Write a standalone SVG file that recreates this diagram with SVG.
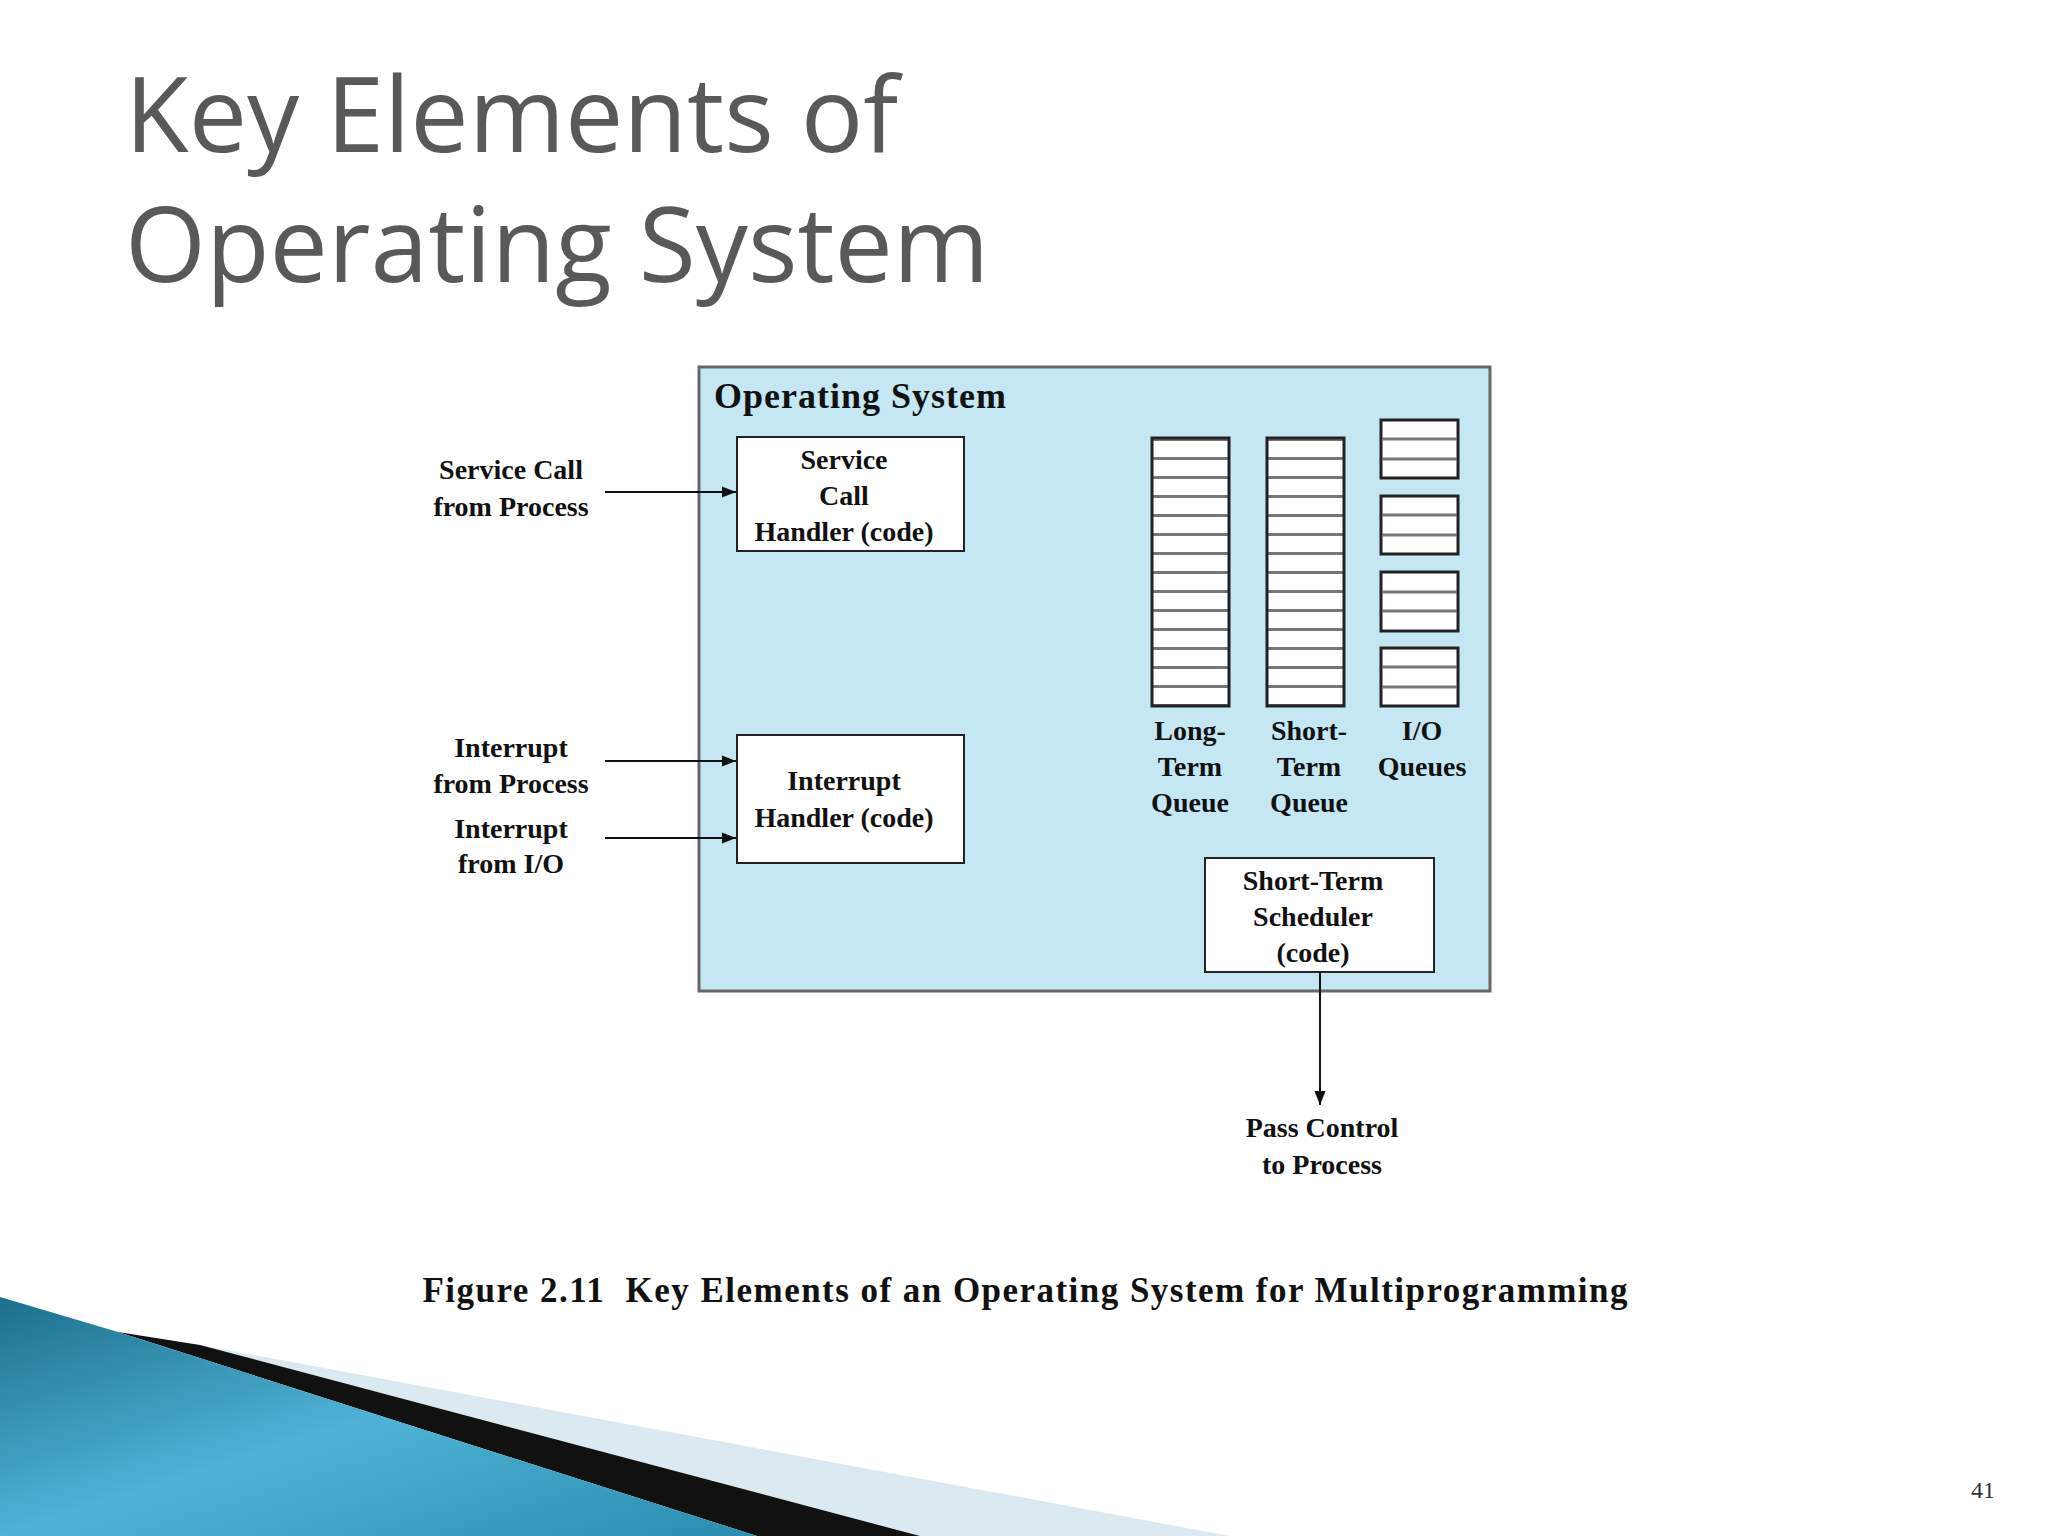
<svg xmlns="http://www.w3.org/2000/svg" width="2048" height="1536" viewBox="0 0 2048 1536">
<defs>
<style>
.t{font-family:"Liberation Serif",serif;font-weight:bold;font-size:28px;fill:#111;text-anchor:middle}
.box{fill:#fff;stroke:#222;stroke-width:2}
.edge{stroke:#111;stroke-width:2;fill:none;marker-end:url(#ah2)}
</style>
<marker id="ah2" viewBox="0 0 10 10" refX="10" refY="5" markerWidth="14" markerHeight="14" orient="auto" markerUnits="userSpaceOnUse"><path d="M0,1L10,5L0,9z" fill="#111"/></marker>
<pattern id="q" width="77" height="19" patternUnits="userSpaceOnUse" y="438"><rect width="77" height="19" fill="#fff"/><rect y="0" width="77" height="3" fill="#777"/></pattern>
<linearGradient id="g1" x1="0" y1="0" x2="1" y2="1"><stop offset="0" stop-color="#1c6f8c"/><stop offset="0.5" stop-color="#4fb3d6"/><stop offset="1" stop-color="#2a8db0"/></linearGradient>
</defs>
<rect width="2048" height="1536" fill="#fff"/>
<g id="decor">
<polygon points="200,1345 1230,1536 920,1536" fill="#dbe9f0"/>
<polygon points="118,1332 200,1345 920,1536 757,1536" fill="#111"/>
<polygon points="0,1297 118,1332 757,1536 0,1536" fill="url(#g1)"/>
</g>
<g id="title" font-family="'Open Sans',sans-serif" font-size="104" fill="#595959">
<text x="125" y="152">Key Elements of</text>
<text x="125" y="282">Operating System</text>
</g>
<g id="os">
<rect x="699" y="367" width="791" height="624" fill="#c5e7f3" stroke="#666" stroke-width="3"/>
<text x="714" y="408" class="t" style="text-anchor:start;font-size:36px" textLength="292">Operating System</text>
</g>
<g id="queues">
<g stroke="#222" stroke-width="3">
<rect x="1152" y="438" width="77" height="268" fill="url(#q)"/>
<rect x="1267" y="438" width="77" height="268" fill="url(#q)"/>
</g>
<g fill="#fff" stroke="#222" stroke-width="3">
<rect x="1381" y="420" width="77" height="58"/>
<rect x="1381" y="496" width="77" height="58"/>
<rect x="1381" y="572" width="77" height="59"/>
<rect x="1381" y="648" width="77" height="58"/>
</g>
<g stroke="#777" stroke-width="3">
<line x1="1382" y1="439" x2="1457" y2="439"/><line x1="1382" y1="459" x2="1457" y2="459"/>
<line x1="1382" y1="515" x2="1457" y2="515"/><line x1="1382" y1="535" x2="1457" y2="535"/>
<line x1="1382" y1="592" x2="1457" y2="592"/><line x1="1382" y1="611" x2="1457" y2="611"/>
<line x1="1382" y1="667" x2="1457" y2="667"/><line x1="1382" y1="687" x2="1457" y2="687"/>
</g>
<text class="t" x="1190" y="740">Long-</text><text class="t" x="1190" y="776">Term</text><text class="t" x="1190" y="812">Queue</text>
<text class="t" x="1309" y="740">Short-</text><text class="t" x="1309" y="776">Term</text><text class="t" x="1309" y="812">Queue</text>
<text class="t" x="1422" y="740">I/O</text><text class="t" x="1422" y="776">Queues</text>
</g>
<g id="sch">
<rect class="box" x="737" y="437" width="227" height="114"/>
<text class="t" x="844" y="469">Service</text><text class="t" x="844" y="505">Call</text><text class="t" x="844" y="541">Handler (code)</text>
</g>
<g id="ih">
<rect class="box" x="737" y="735" width="227" height="128"/>
<text class="t" x="844" y="790">Interrupt</text><text class="t" x="844" y="827">Handler (code)</text>
</g>
<g id="sts">
<rect class="box" x="1205" y="858" width="229" height="114"/>
<text class="t" x="1313" y="890">Short-Term</text><text class="t" x="1313" y="926">Scheduler</text><text class="t" x="1313" y="962">(code)</text>
</g>
<g id="labels">
<text class="t" x="511" y="479">Service Call</text><text class="t" x="511" y="516">from Process</text>
<text class="t" x="511" y="757">Interrupt</text><text class="t" x="511" y="793">from Process</text>
<text class="t" x="511" y="838">Interrupt</text><text class="t" x="511" y="873">from I/O</text>
<text class="t" x="1322" y="1137">Pass Control</text><text class="t" x="1322" y="1174">to Process</text>
</g>
<g id="connectors">
<line class="edge" x1="605" y1="492" x2="736" y2="492"/>
<line class="edge" x1="605" y1="761" x2="736" y2="761"/>
<line class="edge" x1="605" y1="838" x2="736" y2="838"/>
<line class="edge" x1="1320" y1="972" x2="1320" y2="1105"/>
</g>
<text x="1025" y="1302" class="t" style="font-size:35px" textLength="1205" xml:space="preserve">Figure 2.11  Key Elements of an Operating System for Multiprogramming</text>
<text x="1983" y="1498" font-family="'Liberation Serif',serif" font-size="24" fill="#333" text-anchor="middle">41</text>
</svg>
